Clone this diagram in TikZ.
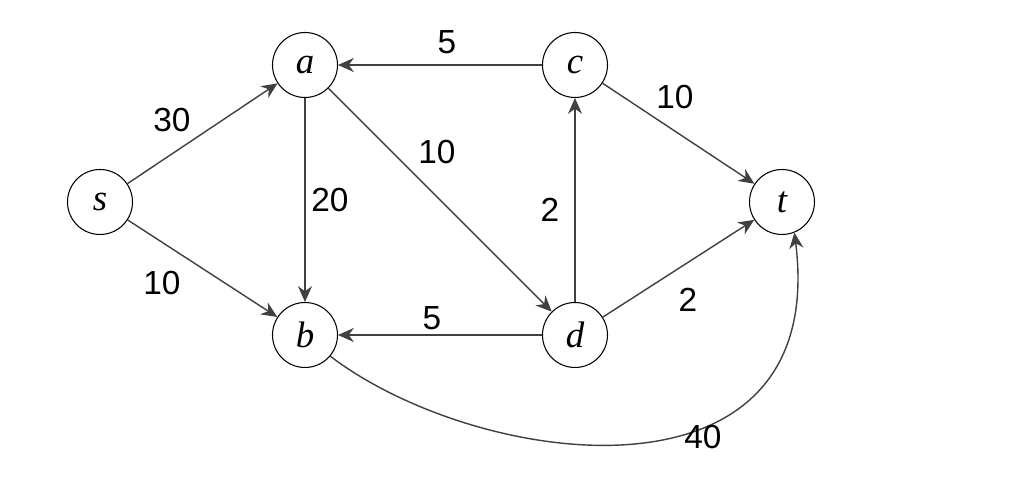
\documentclass[tikz,border=0pt]{standalone}
\usepackage{fontspec}
\setmainfont{Liberation Serif}
\newfontfamily\numfont{Liberation Sans}
\usetikzlibrary{arrows.meta}
\begin{document}
\begin{tikzpicture}[
  vert/.style={circle,draw,line width=0.6pt,minimum size=1.3cm,inner sep=0pt,font=\fontsize{21}{24}\selectfont\itshape},
  edge/.style={draw=black!75,line width=0.8pt,-{Stealth[length=9pt,width=8pt]}},
  lab/.style={font=\fontsize{19}{22}\selectfont\numfont}]
\useasboundingbox (0,0) rectangle (20.48,9.7);
\node[vert] (s) at (2.0,5.66) {s};
\node[vert] (a) at (6.1,8.4) {a};
\node[vert] (b) at (6.1,3.0) {b};
\node[vert] (c) at (11.5,8.4) {c};
\node[vert] (d) at (11.5,3.0) {d};
\node[vert] (t) at (15.64,5.66) {t};
\coordinate (k1) at (9.6,0.3);
\coordinate (k2) at (16.6,-0.6);
\draw[edge] (s) -- (a);
\draw[edge] (s) -- (b);
\draw[edge] (a) -- (b);
\draw[edge] (a) -- (d);
\draw[edge] (c) -- (a);
\draw[edge] (c) -- (t);
\draw[edge] (d) -- (c);
\draw[edge] (d) -- (t);
\draw[edge] (d) -- (b);
\draw[edge] (b.-40) .. controls (k1) and (k2) .. (t.-68);
\node[lab] (l1) at (3.44,7.3) {30};
\node[lab] (l2) at (3.24,4.04) {10};
\node[lab] (l3) at (6.6,5.7) {20};
\node[lab] (l4) at (8.74,6.66) {10};
\node[lab] (l5) at (8.94,8.86) {5};
\node[lab] (l6) at (13.5,7.76) {10};
\node[lab] (l7) at (11.0,5.5) {2};
\node[lab] (l8) at (13.76,3.7) {2};
\node[lab] (l9) at (8.64,3.34) {5};
\node[lab] (l10) at (14.06,0.96) {40};
\end{tikzpicture}
\end{document}
